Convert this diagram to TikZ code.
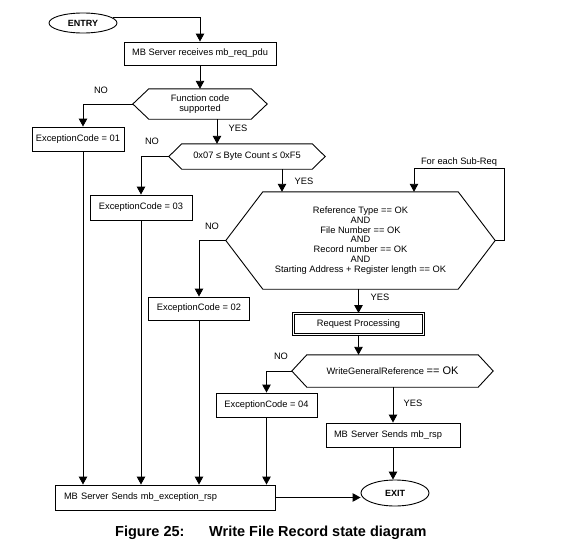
\documentclass[tikz,border=0pt]{standalone}
\usepackage{fontspec}
\setmainfont{Liberation Sans}
\usetikzlibrary{arrows.meta,shapes.geometric,calc}
\newcommand\drawhexa[2]{\draw[line width=0.9pt,line join=miter] ($(#1.north west)+(#2,0)$) -- ($(#1.north east)+(-#2,0)$) -- (#1.east) -- ($(#1.south east)+(-#2,0)$) -- ($(#1.south west)+(#2,0)$) -- (#1.west) -- cycle;}
\begin{document}
\begin{tikzpicture}[x=1pt,y=-1pt,
  every node/.style={font=\fontsize{9.3}{9.8}\selectfont, inner sep=0pt},
  box/.style={draw, line width=0.9pt},
  oval/.style={draw, ellipse, line width=0.9pt, font=\fontsize{9}{10}\selectfont\bfseries},
  conn/.style={line width=0.9pt},
  arr/.style={conn, -{Triangle[length=8pt,width=8.5pt]}},
  capt/.style={anchor=base west, font=\fontsize{14.5}{16}\selectfont\bfseries}
]
\fill[white] (0,0) rectangle (563,546);
\useasboundingbox (0,0) rectangle (563,546);

% nodes
\node[oval, minimum width=68, minimum height=20] (entry) at (83,23) {ENTRY};
\node[box, minimum width=152, minimum height=23] (recv) at (200,53.5) {MB Server receives mb\_req\_pdu};
\node[minimum width=134, minimum height=30, align=center] (fc) at (200,104) {Function code\\supported};
\drawhexa{fc}{16}
\node[box, minimum width=92, minimum height=24] (ex01) at (78,139) {ExceptionCode = 01};
\node[minimum width=156, minimum height=25] (bc) at (247,156.5) {0x07 ≤ Byte Count ≤ 0xF5};
\drawhexa{bc}{13}
\node[box, minimum width=102, minimum height=25] (ex03) at (141,207.5) {ExceptionCode = 03};
\node[minimum width=269, minimum height=97, align=center] (big) at (360.5,240.5) {Reference Type == OK\\AND\\File Number == OK\\AND\\Record number == OK\\AND\\Starting Address + Register length == OK};
\drawhexa{big}{37}
\node[box, minimum width=101, minimum height=23] (ex02) at (199,308.5) {ExceptionCode = 02};
\node[box, double, double distance=1.2pt, minimum width=130, minimum height=21] (req) at (358.5,324) {Request Processing};
\node[minimum width=201, minimum height=32] (wgr) at (392.5,371) {WriteGeneralReference {\fontsize{11}{12}\selectfont == OK}};
\drawhexa{wgr}{15}
\node[box, minimum width=101, minimum height=24] (ex04) at (266.5,405) {ExceptionCode = 04};
\node[box, minimum width=134, minimum height=24, text width=118, inner xsep=8, align=left] (rsp) at (393,435) {MB Server Sends mb\_rsp};
\node[oval, minimum width=68, minimum height=26] (exit) at (395,493) {EXIT};
\node[box, minimum width=220, minimum height=25, text width=202, inner xsep=9, align=left] (exc) at (165,497.5) {MB Server Sends mb\_exception\_rsp};

% labels
\node (no1) at (101,90) {NO};
\node (yes1) at (238,128) {YES};
\node (no2) at (152,141) {NO};
\node (yes2) at (304,181) {YES};
\node (no3) at (212,226) {NO};
\node (sub) at (459,162) {For each Sub-Req};
\node (yes3) at (380,297) {YES};
\node (no4) at (281,356) {NO};
\node (yes4) at (413,403) {YES};

% helper coordinates
\coordinate (fcs) at ($(fc.south)+(17,0)$);
\coordinate (bcs) at ($(bc.south)+(35,0)$);
\coordinate (e01) at ($(ex01.north)+(5,0)$);
\coordinate (e01s) at ($(ex01.south)+(5,0)$);
\coordinate (lp) at (414,168);

% connectors
\draw[arr] (entry.10) -| (recv.north);
\draw[arr] (recv.south) -- (fc.north);
\draw[arr] (fc.west) -| (e01);
\draw[arr] (fcs) -- (fcs |- bc.north);
\draw[arr] (bc.west) -| (ex03.north);
\draw[arr] (bcs) -- (bcs |- big.north);
\draw[arr] (big.east) -- ++(9,0) |- (lp) -- (lp |- big.north);
\draw[arr] (big.west) -| (ex02.north);
\draw[arr] (req.north |- big.south) -- (req.north);
\draw[arr] (req.south) -- (req.south |- wgr.north);
\draw[arr] (wgr.west) -| (ex04.north);
\draw[arr] (rsp.north |- wgr.south) -- (rsp.north);
\draw[arr] (rsp.south) -- (rsp.south |- exit.north);
\draw[arr] (e01s) -- (e01s |- exc.north);
\draw[arr] (ex03.south) -- (ex03.south |- exc.north);
\draw[arr] (ex02.south) -- (ex02.south |- exc.north);
\draw[arr] (ex04.south) -- (ex04.south |- exc.north);
\draw[arr] (exc.east) -- (exc.east -| exit.west);

% caption
\node[capt] (figno) at (115,536) {Figure 25:};
\node[capt] (figt) at (209,536) {Write File Record state diagram};
\end{tikzpicture}
\end{document}
